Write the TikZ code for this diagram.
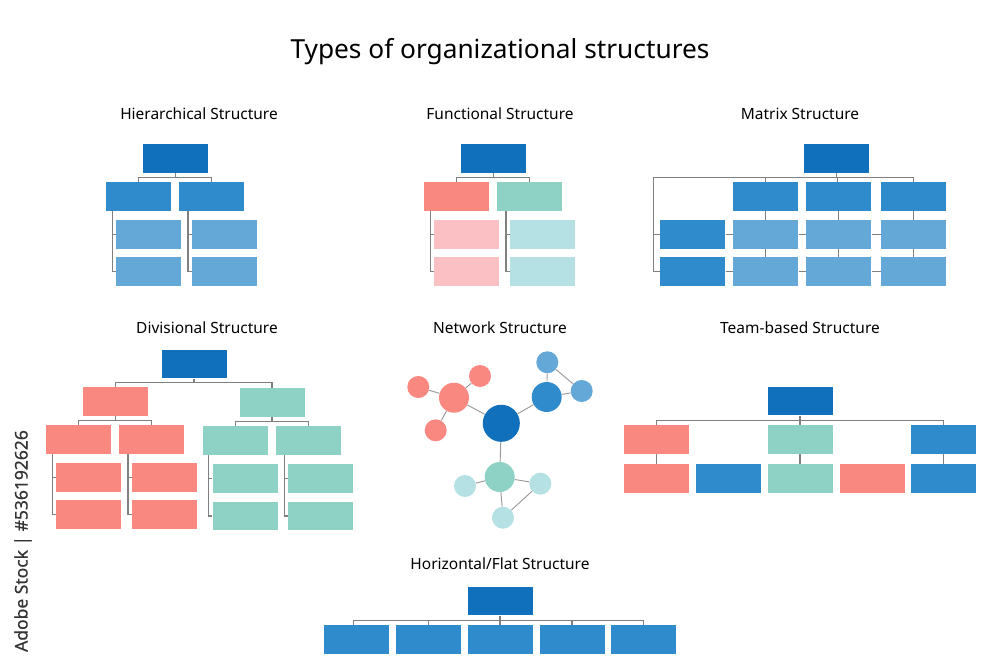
\documentclass[tikz,border=0pt]{standalone}
\usepackage{fontspec}
\setmainfont{Noto Sans}
\usetikzlibrary{positioning}
\definecolor{deepblue}{HTML}{1170BB}
\definecolor{midblue}{HTML}{2F8BCC}
\definecolor{lightblue}{HTML}{64A8D8}
\definecolor{pink}{HTML}{F98880}
\definecolor{palepink}{HTML}{FBC0C4}
\definecolor{teal}{HTML}{8DD2C5}
\definecolor{paleteal}{HTML}{B5E1E5}
\tikzset{
	orgbox/.style={rectangle,inner sep=0pt,minimum width=48.75pt,minimum height=21.4pt},
	hub/.style={circle,inner sep=0pt,minimum size=22.5pt},
	leaf/.style={circle,inner sep=0pt,minimum size=16.5pt},
	link/.style={draw=black!50,line width=0.95pt},
	thinlink/.style={draw=black!40,line width=0.7pt},
	heading/.style={font=\fontsize{11.6pt}{14pt}\selectfont,text=black}
}
\begin{document}
\begin{tikzpicture}[x=0.75pt,y=-0.75pt]
	\useasboundingbox (0,0) rectangle (1000,667);
	% titles
	\node[font=\fontsize{19.7pt}{24pt}\selectfont,text=black] (title) at (500,52) {Types of organizational structures};
	\node[heading] (hierTitle) at (199,114) {Hierarchical Structure};
	\node[heading] (funcTitle) at (500,114) {Functional Structure};
	\node[heading] (matrixTitle) at (800,114) {Matrix Structure};
	\node[heading] (divTitle) at (207,328) {Divisional Structure};
	\node[heading] (netTitle) at (500,328) {Network Structure};
	\node[heading] (teamTitle) at (800,328) {Team-based Structure};
	\node[heading] (flatTitle) at (500,564) {Horizontal/Flat Structure};
	\node[rotate=90,font=\fontsize{13.1pt}{15pt}\selectfont\addfontfeature{FakeBold=0.5},text=black!80] (credit) at (23,541) {Adobe Stock | \#536192626};

	% the four trees of the same shape
	\foreach \tree/\dx/\dy/\topc/\leftc/\rightc/\lowl/\lowr in {
		H/0/0/deepblue/midblue/midblue/lightblue/lightblue,
		Fn/318/0/deepblue/pink/teal/palepink/paleteal,
		DL/-60/243/pink/pink/pink/pink/pink,
		DR/96.5/244.2/teal/teal/teal/teal/teal} {
		\begin{scope}[shift={(\dx,\dy)}]
			\node[orgbox,fill=\topc] (\tree0) at (175.5,158.5) {};
			\node[orgbox,fill=\leftc] (\tree1) at (138.7,196.4) {};
			\node[orgbox,fill=\rightc] (\tree2) at (211.8,196.4) {};
			\node[orgbox,fill=\lowl] (\tree3) at (148.7,234.4) {};
			\node[orgbox,fill=\lowl] (\tree4) at (148.7,271.7) {};
			\node[orgbox,fill=\lowr] (\tree5) at (224.4,234.4) {};
			\node[orgbox,fill=\lowr] (\tree6) at (224.4,271.7) {};
			\draw[link] (\tree0.south) -- ++(0,4.4) coordinate (\tree bus) -| (\tree1.north) (\tree bus) -| (\tree2.north);
			\draw[link] (\tree1.south west) ++(6.4,0) coordinate (\tree a) |- (\tree3.west) (\tree a) |- (\tree4.west);
			\draw[link] (\tree2.south west) ++(9,0) coordinate (\tree b) |- (\tree5.west) (\tree b) |- (\tree6.west);
		\end{scope}
	}

	% divisional head
	\node[orgbox,fill=deepblue] (D0) at (194,364) {};
	\draw[link] (D0.south) -- ++(0,4.3) coordinate (Dbus) -| (DL0.north) (Dbus) -| (DR0.north);

	% matrix
	\node[orgbox,fill=deepblue] (M0) at (836.8,158.5) {};
	\node[orgbox,fill=midblue] (ML1) at (692.8,234.4) {};
	\node[orgbox,fill=midblue] (ML2) at (692.8,271.7) {};
	\foreach \c/\x in {1/765.8,2/838.8,3/913.3} {
		\node[orgbox,fill=midblue] (MT\c) at (\x,196.4) {};
		\node[orgbox,fill=lightblue] (MA\c) at (\x,234.4) {};
		\node[orgbox,fill=lightblue] (MB\c) at (\x,271.7) {};
		\draw[link] (MT\c) -- (MA\c) (MA\c) -- (MB\c);
	}
	\draw[link] (M0.south) -- ++(0,4.4) coordinate (Mbus) -| (MT1.north) (Mbus) -| ([xshift=-0.8pt]MT2.north) (Mbus) -| (MT3.north);
	\path (ML1.west) ++(-6.2,0) coordinate (Mtrunk);
	\draw[link] (Mbus) -| (Mtrunk) (ML1.west) -- (Mtrunk) |- (ML2.west);
	\draw[link] (ML1) -- (MA1) (MA1) -- (MA2) (MA2) -- (MA3);
	\draw[link] (ML2) -- (MB1) (MB1) -- (MB2) (MB2) -- (MB3);

	% network
	\node[circle,inner sep=0pt,minimum size=27.8pt,fill=deepblue] (N0) at (501.3,423.3) {};
	\node[hub,fill=pink] (NR) at (454,397.7) {};
	\node[leaf,fill=pink] (NR1) at (418.3,387) {};
	\node[leaf,fill=pink] (NR2) at (480,376) {};
	\node[leaf,fill=pink] (NR3) at (435.7,430.3) {};
	\node[hub,fill=midblue] (NB) at (546.7,397) {};
	\node[leaf,fill=lightblue] (NB1) at (547.3,362.3) {};
	\node[leaf,fill=lightblue] (NB2) at (581.7,391) {};
	\node[hub,fill=teal] (NG) at (499.7,477) {};
	\node[leaf,fill=paleteal] (NG1) at (465,486) {};
	\node[leaf,fill=paleteal] (NG2) at (540.3,483.7) {};
	\node[leaf,fill=paleteal] (NG3) at (503,517.7) {};
	\draw[thinlink] (N0) -- (NR) (N0) -- (NB) (N0) -- (NG);
	\draw[thinlink] (NR) -- (NR1) (NR) -- (NR2) (NR) -- (NR3);
	\draw[thinlink] (NB) -- (NB1) (NB) -- (NB2) (NB1) -- (NB2);
	\draw[thinlink] (NG) -- (NG1) (NG) -- (NG2) (NG) -- (NG3) (NG2) -- (NG3);

	% team-based
	\node[orgbox,fill=deepblue] (T0) at (800,401) {};
	\node[orgbox,fill=pink] (T1) at (656.5,439.7) {};
	\node[orgbox,fill=teal] (T2) at (800,439.7) {};
	\node[orgbox,fill=midblue] (T3) at (943.5,439.7) {};
	\node[orgbox,fill=pink] (T4) at (656.5,478.3) {};
	\node[orgbox,fill=midblue] (T5) at (728,478.3) {};
	\node[orgbox,fill=teal] (T6) at (800,478.3) {};
	\node[orgbox,fill=pink] (T7) at (872,478.3) {};
	\node[orgbox,fill=midblue] (T8) at (943.5,478.3) {};
	\draw[link] (T0.south) -- ++(0,4.6) coordinate (Tbus) -| (T1.north) (Tbus) -| (T3.north) (Tbus) -- (T2.north);
	\draw[link] (T1) -- (T4) (T2) -- (T6) (T3) -- (T8);

	% horizontal
	\node[orgbox,fill=deepblue] (F0) at (500,601) {};
	\foreach \c/\x in {1/356.5,2/428.5,3/500,4/572,5/643.5}
		\node[orgbox,fill=midblue] (F\c) at (\x,639.7) {};
	\draw[link] (F0.south) -- ++(0,4.6) coordinate (Fbus) -| ([xshift=-2pt]F1.north) (Fbus) -| (F2.north) (Fbus) -- (F3.north) (Fbus) -| (F4.north) (Fbus) -| (F5.north);
\end{tikzpicture}
\end{document}
